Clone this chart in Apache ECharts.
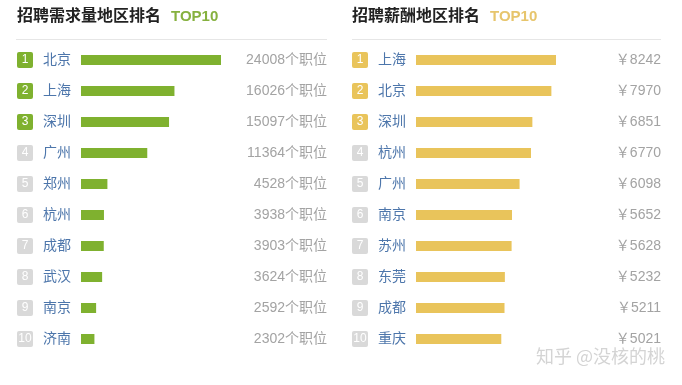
<!DOCTYPE html>
<html><head><meta charset="utf-8">
<script src="https://cdn.jsdelivr.net/npm/echarts@6/dist/echarts.min.js"></script>
<style>html,body{margin:0;padding:0;background:#fff}#c{width:682px;height:385px}</style>
</head><body><div id="c"></div>
<script>
const demandCities = ['北京','上海','深圳','广州','郑州','杭州','成都','武汉','南京','济南'];
const demandValues = [24008,16026,15097,11364,4528,3938,3903,3624,2592,2302];
const salaryCities = ['上海','北京','深圳','杭州','广州','南京','苏州','东莞','成都','重庆'];
const salaryValues = [8242,7970,6851,6770,6098,5652,5628,5232,5211,5021];
const leftTitle = '招聘需求量地区排名';
const rightTitle = '招聘薪酬地区排名';
const topTag = 'TOP10';
const watermark = '知乎 @没核的桃';

const FONT = '"Liberation Sans", "Noto Sans CJK SC", sans-serif';
const GREEN = '#7fb12f';
const GOLD = '#e9c45b';
const GRAY = '#d9d9d9';
const CITY = '#4d76ab';
const VAL = '#a3a3a3';

function nameAxis(grid, cities, color) {
  return {
    type: 'category', gridIndex: grid, data: cities, inverse: true,
    axisLine: {show: false}, axisTick: {show: false}, splitLine: {show: false},
    axisLabel: {
      margin: 64, align: 'left', fontFamily: FONT,
      formatter: (v, i) => '{' + (i < 3 ? 'a' : 'g') + '|' + (i + 1) + '}{c|' + v + '}',
      rich: {
        a: {backgroundColor: color, color: '#fff', width: 16, height: 16, lineHeight: 16, align: 'center', borderRadius: 2, fontSize: 12, fontFamily: FONT},
        g: {backgroundColor: GRAY, color: '#fff', width: 16, height: 16, lineHeight: 16, align: 'center', borderRadius: 2, fontSize: 12, fontFamily: FONT},
        c: {color: CITY, fontSize: 14, padding: [0, 0, 0, 10], fontFamily: FONT}
      }
    }
  };
}
function valueAxis(grid, labels, margin) {
  return {
    type: 'category', gridIndex: grid, data: labels, inverse: true, position: 'right',
    axisLine: {show: false}, axisTick: {show: false}, splitLine: {show: false},
    axisLabel: {margin: margin, align: 'right', color: VAL, fontSize: 14, fontFamily: FONT}
  };
}

const chart = echarts.init(document.getElementById('c'));
chart.setOption({
  animation: false,
  backgroundColor: '#fff',
  title: [
    {left: 17, top: 9, padding: 0, text: '{t|' + leftTitle + '}{g|' + topTag + '}',
     textStyle: {rich: {
       t: {fontSize: 16, fontWeight: 'bold', color: '#222', fontFamily: FONT},
       g: {fontSize: 15, fontWeight: 'bold', color: '#86b13f', fontFamily: FONT, padding: [0, 0, 0, 10]}}}},
    {left: 352, top: 9, padding: 0, text: '{t|' + rightTitle + '}{g|' + topTag + '}',
     textStyle: {rich: {
       t: {fontSize: 16, fontWeight: 'bold', color: '#222', fontFamily: FONT},
       g: {fontSize: 15, fontWeight: 'bold', color: '#e7c56c', fontFamily: FONT, padding: [0, 0, 0, 10]}}}}
  ],
  grid: [
    {left: 81, width: 140, top: 44.5, height: 310},
    {left: 416, width: 140, top: 44.5, height: 310}
  ],
  xAxis: [
    {type: 'value', gridIndex: 0, min: 0, max: Math.max(...demandValues), show: false},
    {type: 'value', gridIndex: 1, min: 0, max: Math.max(...salaryValues), show: false}
  ],
  yAxis: [
    nameAxis(0, demandCities, GREEN),
    valueAxis(0, demandValues.map(v => v + '个职位'), 106),
    nameAxis(1, salaryCities, GOLD),
    valueAxis(1, salaryValues.map(v => '￥' + v), 105)
  ],
  series: [
    {type: 'bar', xAxisIndex: 0, yAxisIndex: 0, data: demandValues, barWidth: 10, itemStyle: {color: GREEN}, silent: true},
    {type: 'bar', xAxisIndex: 1, yAxisIndex: 2, data: salaryValues, barWidth: 10, itemStyle: {color: GOLD}, silent: true}
  ],
  graphic: [
    {type: 'line', shape: {x1: 16, y1: 39.5, x2: 327, y2: 39.5}, style: {stroke: '#e6e6e6', lineWidth: 1}},
    {type: 'line', shape: {x1: 352, y1: 39.5, x2: 661, y2: 39.5}, style: {stroke: '#e6e6e6', lineWidth: 1}},
    {type: 'text', right: 17, top: 347, style: {text: watermark, fill: '#d4d4d4', font: '18px "Noto Sans CJK SC", sans-serif'}}
  ]
});
</script></body></html>
